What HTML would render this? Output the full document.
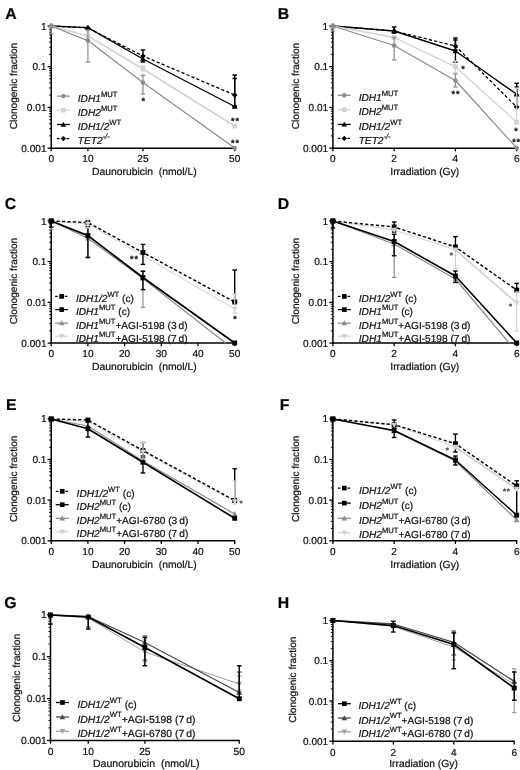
<!DOCTYPE html>
<html lang="en"><head><meta charset="utf-8"><title>Clonogenic fraction figure</title>
<style>
html,body{margin:0;padding:0;background:#fff;}
body{width:520px;height:770px;overflow:hidden;}
svg{display:block;font-family:'Liberation Sans', Arial, Helvetica, sans-serif;text-rendering:geometricPrecision;}
svg text{white-space:pre;stroke:#111;stroke-width:0.22px;}
</style></head><body>
<svg width="520" height="770" viewBox="0 0 520 770">
<rect width="520" height="770" fill="#ffffff"/>
<g id="panelA">
<text x="5.2" y="19.3" font-size="15.8" font-weight="bold" fill="#000">A</text>
<g stroke="#000" stroke-width="1.5" fill="none">
<line x1="51.2" y1="25.4" x2="51.2" y2="148.85"/>
<line x1="50.5" y1="148.15" x2="235.2" y2="148.15"/>
</g>
<g stroke="#000" stroke-width="1.3" fill="none">
<line x1="47.6" y1="25.90" x2="51.2" y2="25.90"/>
<line x1="49.1" y1="54.38" x2="51.2" y2="54.38" stroke-width="0.9"/>
<line x1="49.1" y1="47.21" x2="51.2" y2="47.21" stroke-width="0.9"/>
<line x1="49.1" y1="42.12" x2="51.2" y2="42.12" stroke-width="0.9"/>
<line x1="49.1" y1="38.17" x2="51.2" y2="38.17" stroke-width="0.9"/>
<line x1="49.1" y1="34.94" x2="51.2" y2="34.94" stroke-width="0.9"/>
<line x1="49.1" y1="32.21" x2="51.2" y2="32.21" stroke-width="0.9"/>
<line x1="49.1" y1="29.85" x2="51.2" y2="29.85" stroke-width="0.9"/>
<line x1="49.1" y1="27.76" x2="51.2" y2="27.76" stroke-width="0.9"/>
<line x1="47.6" y1="66.65" x2="51.2" y2="66.65"/>
<line x1="49.1" y1="95.13" x2="51.2" y2="95.13" stroke-width="0.9"/>
<line x1="49.1" y1="87.96" x2="51.2" y2="87.96" stroke-width="0.9"/>
<line x1="49.1" y1="82.87" x2="51.2" y2="82.87" stroke-width="0.9"/>
<line x1="49.1" y1="78.92" x2="51.2" y2="78.92" stroke-width="0.9"/>
<line x1="49.1" y1="75.69" x2="51.2" y2="75.69" stroke-width="0.9"/>
<line x1="49.1" y1="72.96" x2="51.2" y2="72.96" stroke-width="0.9"/>
<line x1="49.1" y1="70.60" x2="51.2" y2="70.60" stroke-width="0.9"/>
<line x1="49.1" y1="68.51" x2="51.2" y2="68.51" stroke-width="0.9"/>
<line x1="47.6" y1="107.40" x2="51.2" y2="107.40"/>
<line x1="49.1" y1="135.88" x2="51.2" y2="135.88" stroke-width="0.9"/>
<line x1="49.1" y1="128.71" x2="51.2" y2="128.71" stroke-width="0.9"/>
<line x1="49.1" y1="123.62" x2="51.2" y2="123.62" stroke-width="0.9"/>
<line x1="49.1" y1="119.67" x2="51.2" y2="119.67" stroke-width="0.9"/>
<line x1="49.1" y1="116.44" x2="51.2" y2="116.44" stroke-width="0.9"/>
<line x1="49.1" y1="113.71" x2="51.2" y2="113.71" stroke-width="0.9"/>
<line x1="49.1" y1="111.35" x2="51.2" y2="111.35" stroke-width="0.9"/>
<line x1="49.1" y1="109.26" x2="51.2" y2="109.26" stroke-width="0.9"/>
<line x1="47.6" y1="148.15" x2="51.2" y2="148.15"/>
<line x1="51.20" y1="148.15" x2="51.20" y2="151.35"/>
<line x1="87.90" y1="148.15" x2="87.90" y2="151.35"/>
<line x1="142.95" y1="148.15" x2="142.95" y2="151.35"/>
<line x1="234.70" y1="148.15" x2="234.70" y2="151.35"/>
</g>
<clipPath id="clipA"><rect x="46.2" y="17.9" width="195.5" height="130.75"/></clipPath>
<g clip-path="url(#clipA)">
<polyline points="51.20,26.00 87.90,28.00 142.95,56.00 234.70,95.00" fill="none" stroke="#000000" stroke-width="1.3" stroke-dasharray="3.2,2.2" stroke-linejoin="round"/>
<polyline points="51.20,26.00 87.90,27.60 142.95,59.00 234.70,106.50" fill="none" stroke="#000000" stroke-width="1.35" stroke-linejoin="round"/>
<polyline points="51.20,26.00 87.90,36.00 142.95,69.00 234.70,126.00" fill="none" stroke="#d2d2d2" stroke-width="1.5" stroke-linejoin="round"/>
<polyline points="51.20,26.00 87.90,40.60 142.95,82.60 234.70,148.10" fill="none" stroke="#8c8c8c" stroke-width="1.25" stroke-linejoin="round"/>
</g>
<g stroke="#000000" stroke-width="1.4" fill="none"><line x1="234.70" y1="75.00" x2="234.70" y2="106.00"/><line x1="232.40" y1="75.00" x2="237.00" y2="75.00"/><line x1="232.40" y1="106.00" x2="237.00" y2="106.00"/></g>
<polygon points="51.20,23.20 54.00,26.00 51.20,28.80 48.40,26.00" fill="#000000"/>
<polygon points="87.90,25.20 90.70,28.00 87.90,30.80 85.10,28.00" fill="#000000"/>
<polygon points="142.95,53.20 145.75,56.00 142.95,58.80 140.15,56.00" fill="#000000"/>
<polygon points="234.70,92.20 237.50,95.00 234.70,97.80 231.90,95.00" fill="#000000"/>
<g stroke="#000000" stroke-width="1.4" fill="none"><line x1="142.95" y1="50.00" x2="142.95" y2="62.00"/><line x1="140.65" y1="50.00" x2="145.25" y2="50.00"/><line x1="140.65" y1="62.00" x2="145.25" y2="62.00"/></g>
<g stroke="#000000" stroke-width="1.4" fill="none"><line x1="234.70" y1="78.50" x2="234.70" y2="106.50"/><line x1="232.40" y1="78.50" x2="237.00" y2="78.50"/><line x1="232.40" y1="106.50" x2="237.00" y2="106.50"/></g>
<polygon points="51.20,23.10 54.10,28.32 48.30,28.32" fill="#000000"/>
<polygon points="87.90,24.70 90.80,29.92 85.00,29.92" fill="#000000"/>
<polygon points="142.95,56.10 145.85,61.32 140.05,61.32" fill="#000000"/>
<polygon points="234.70,103.60 237.60,108.82 231.80,108.82" fill="#000000"/>
<g stroke="#d2d2d2" stroke-width="1.2" fill="none"><line x1="142.95" y1="66.00" x2="142.95" y2="75.00" stroke-dasharray="2,1.5"/><line x1="140.65" y1="66.00" x2="145.25" y2="66.00"/><line x1="140.65" y1="75.00" x2="145.25" y2="75.00"/></g>
<g stroke="#d2d2d2" stroke-width="1.2" fill="none"><line x1="87.90" y1="31.00" x2="87.90" y2="41.00" stroke-dasharray="2,1.5"/><line x1="85.60" y1="31.00" x2="90.20" y2="31.00"/><line x1="85.60" y1="41.00" x2="90.20" y2="41.00"/></g>
<rect x="48.75" y="23.55" width="4.90" height="4.90" fill="#d2d2d2"/>
<rect x="85.45" y="33.55" width="4.90" height="4.90" fill="#d2d2d2"/>
<rect x="140.50" y="66.55" width="4.90" height="4.90" fill="#d2d2d2"/>
<rect x="232.25" y="123.55" width="4.90" height="4.90" fill="#d2d2d2"/>
<g stroke="#8c8c8c" stroke-width="1.2" fill="none"><line x1="51.20" y1="26.00" x2="51.20" y2="34.00"/><line x1="48.90" y1="26.00" x2="53.50" y2="26.00"/><line x1="48.90" y1="34.00" x2="53.50" y2="34.00"/></g>
<g stroke="#8c8c8c" stroke-width="1.2" fill="none"><line x1="87.90" y1="30.00" x2="87.90" y2="62.00"/><line x1="85.60" y1="30.00" x2="90.20" y2="30.00"/><line x1="85.60" y1="62.00" x2="90.20" y2="62.00"/></g>
<g stroke="#8c8c8c" stroke-width="1.2" fill="none"><line x1="142.95" y1="75.50" x2="142.95" y2="94.00"/><line x1="140.65" y1="75.50" x2="145.25" y2="75.50"/><line x1="140.65" y1="94.00" x2="145.25" y2="94.00"/></g>
<circle cx="51.20" cy="26.00" r="2.30" fill="#8c8c8c"/>
<circle cx="87.90" cy="40.60" r="2.30" fill="#8c8c8c"/>
<circle cx="142.95" cy="82.60" r="2.30" fill="#8c8c8c"/>
<circle cx="234.70" cy="148.10" r="2.30" fill="#8c8c8c"/>
<text x="46.50" y="29.50" font-size="10.10" text-anchor="end" fill="#111111">1</text>
<text x="46.50" y="70.25" font-size="10.10" text-anchor="end" fill="#111111">0.1</text>
<text x="46.50" y="111.00" font-size="10.10" text-anchor="end" fill="#111111">0.01</text>
<text x="46.50" y="151.75" font-size="10.10" text-anchor="end" fill="#111111">0.001</text>
<text x="51.20" y="162.35" font-size="10.10" text-anchor="middle" fill="#111111">0</text>
<text x="87.90" y="162.35" font-size="10.10" text-anchor="middle" fill="#111111">10</text>
<text x="142.95" y="162.35" font-size="10.10" text-anchor="middle" fill="#111111">25</text>
<text x="234.70" y="162.35" font-size="10.10" text-anchor="middle" fill="#111111">50</text>
<text x="144.35" y="175.35" font-size="10.35" text-anchor="middle" fill="#111111" xml:space="preserve">Daunorubicin  (nmol/L)</text>
<text transform="translate(17.20,86.03) rotate(-90)" font-size="10.10" text-anchor="middle" fill="#111111">Clonogenic fraction</text>
<line x1="56.9" y1="96.1" x2="69.8" y2="96.1" stroke="#8c8c8c" stroke-width="1.3"/>
<circle cx="63.35" cy="96.10" r="2.18" fill="#8c8c8c"/>
<text x="77.80" y="101.60" font-size="10.15" text-anchor="start" fill="#111111" xml:space="preserve"><tspan font-style="italic">IDH1</tspan><tspan font-size="7.61" dy="-5.1">MUT</tspan></text>
<line x1="56.9" y1="110.2" x2="69.8" y2="110.2" stroke="#d2d2d2" stroke-width="1.3"/>
<rect x="61.02" y="107.87" width="4.66" height="4.66" fill="#d2d2d2"/>
<text x="77.80" y="115.70" font-size="10.15" text-anchor="start" fill="#111111" xml:space="preserve"><tspan font-style="italic">IDH2</tspan><tspan font-size="7.61" dy="-5.1">MUT</tspan></text>
<line x1="56.9" y1="124.5" x2="69.8" y2="124.5" stroke="#000000" stroke-width="1.3"/>
<polygon points="63.35,121.75 66.11,126.70 60.59,126.70" fill="#000000"/>
<text x="77.80" y="130.00" font-size="10.15" text-anchor="start" fill="#111111" xml:space="preserve"><tspan font-style="italic">IDH1/2</tspan><tspan font-size="7.61" dy="-5.1">WT</tspan></text>
<line x1="56.9" y1="138.6" x2="69.8" y2="138.6" stroke="#000000" stroke-width="1.3" stroke-dasharray="2.6,2.2"/>
<polygon points="63.35,135.94 66.01,138.60 63.35,141.26 60.69,138.60" fill="#000000"/>
<text x="77.80" y="144.10" font-size="10.15" text-anchor="start" fill="#111111" xml:space="preserve"><tspan font-style="italic">TET2</tspan><tspan font-style="italic" font-size="7.61" dy="-5.1">-/-</tspan></text>
<text x="143.70000000000002" y="104.18" font-size="9" font-weight="bold" text-anchor="middle" fill="#1c1c1c" stroke="none" letter-spacing="0.8">*</text>
<text x="235.4" y="123.68" font-size="9" font-weight="bold" text-anchor="middle" fill="#1c1c1c" stroke="none" letter-spacing="0.8">**</text>
<text x="235.4" y="145.98" font-size="9" font-weight="bold" text-anchor="middle" fill="#1c1c1c" stroke="none" letter-spacing="0.8">**</text>
</g>
<g id="panelB">
<text x="277.8" y="19.1" font-size="15.8" font-weight="bold" fill="#000">B</text>
<g stroke="#000" stroke-width="1.5" fill="none">
<line x1="332.9" y1="25.4" x2="332.9" y2="148.85"/>
<line x1="332.2" y1="148.15" x2="517.2" y2="148.15"/>
</g>
<g stroke="#000" stroke-width="1.3" fill="none">
<line x1="329.29999999999995" y1="25.90" x2="332.9" y2="25.90"/>
<line x1="330.79999999999995" y1="54.38" x2="332.9" y2="54.38" stroke-width="0.9"/>
<line x1="330.79999999999995" y1="47.21" x2="332.9" y2="47.21" stroke-width="0.9"/>
<line x1="330.79999999999995" y1="42.12" x2="332.9" y2="42.12" stroke-width="0.9"/>
<line x1="330.79999999999995" y1="38.17" x2="332.9" y2="38.17" stroke-width="0.9"/>
<line x1="330.79999999999995" y1="34.94" x2="332.9" y2="34.94" stroke-width="0.9"/>
<line x1="330.79999999999995" y1="32.21" x2="332.9" y2="32.21" stroke-width="0.9"/>
<line x1="330.79999999999995" y1="29.85" x2="332.9" y2="29.85" stroke-width="0.9"/>
<line x1="330.79999999999995" y1="27.76" x2="332.9" y2="27.76" stroke-width="0.9"/>
<line x1="329.29999999999995" y1="66.65" x2="332.9" y2="66.65"/>
<line x1="330.79999999999995" y1="95.13" x2="332.9" y2="95.13" stroke-width="0.9"/>
<line x1="330.79999999999995" y1="87.96" x2="332.9" y2="87.96" stroke-width="0.9"/>
<line x1="330.79999999999995" y1="82.87" x2="332.9" y2="82.87" stroke-width="0.9"/>
<line x1="330.79999999999995" y1="78.92" x2="332.9" y2="78.92" stroke-width="0.9"/>
<line x1="330.79999999999995" y1="75.69" x2="332.9" y2="75.69" stroke-width="0.9"/>
<line x1="330.79999999999995" y1="72.96" x2="332.9" y2="72.96" stroke-width="0.9"/>
<line x1="330.79999999999995" y1="70.60" x2="332.9" y2="70.60" stroke-width="0.9"/>
<line x1="330.79999999999995" y1="68.51" x2="332.9" y2="68.51" stroke-width="0.9"/>
<line x1="329.29999999999995" y1="107.40" x2="332.9" y2="107.40"/>
<line x1="330.79999999999995" y1="135.88" x2="332.9" y2="135.88" stroke-width="0.9"/>
<line x1="330.79999999999995" y1="128.71" x2="332.9" y2="128.71" stroke-width="0.9"/>
<line x1="330.79999999999995" y1="123.62" x2="332.9" y2="123.62" stroke-width="0.9"/>
<line x1="330.79999999999995" y1="119.67" x2="332.9" y2="119.67" stroke-width="0.9"/>
<line x1="330.79999999999995" y1="116.44" x2="332.9" y2="116.44" stroke-width="0.9"/>
<line x1="330.79999999999995" y1="113.71" x2="332.9" y2="113.71" stroke-width="0.9"/>
<line x1="330.79999999999995" y1="111.35" x2="332.9" y2="111.35" stroke-width="0.9"/>
<line x1="330.79999999999995" y1="109.26" x2="332.9" y2="109.26" stroke-width="0.9"/>
<line x1="329.29999999999995" y1="148.15" x2="332.9" y2="148.15"/>
<line x1="332.90" y1="148.15" x2="332.90" y2="151.35"/>
<line x1="394.17" y1="148.15" x2="394.17" y2="151.35"/>
<line x1="455.43" y1="148.15" x2="455.43" y2="151.35"/>
<line x1="516.70" y1="148.15" x2="516.70" y2="151.35"/>
</g>
<clipPath id="clipB"><rect x="327.9" y="17.9" width="195.80000000000007" height="130.75"/></clipPath>
<g clip-path="url(#clipB)">
<polyline points="332.90,26.00 394.17,31.00 455.43,46.00 516.70,107.00" fill="none" stroke="#000000" stroke-width="1.3" stroke-dasharray="3.2,2.2" stroke-linejoin="round"/>
<polyline points="332.90,26.00 394.17,31.00 455.43,51.00 516.70,94.30" fill="none" stroke="#000000" stroke-width="1.35" stroke-linejoin="round"/>
<polyline points="332.90,26.00 394.17,37.50 455.43,66.80 516.70,122.30" fill="none" stroke="#d2d2d2" stroke-width="1.3" stroke-linejoin="round"/>
<polyline points="332.90,26.00 394.17,45.50 455.43,80.50 516.70,148.00" fill="none" stroke="#8c8c8c" stroke-width="1.25" stroke-linejoin="round"/>
</g>
<g stroke="#000000" stroke-width="1.4" fill="none"><line x1="455.43" y1="38.00" x2="455.43" y2="50.00"/><line x1="453.13" y1="38.00" x2="457.73" y2="38.00"/><line x1="453.13" y1="50.00" x2="457.73" y2="50.00"/></g>
<g stroke="#000000" stroke-width="1.4" fill="none"><line x1="516.70" y1="87.10" x2="516.70" y2="107.00"/><line x1="514.40" y1="87.10" x2="519.00" y2="87.10"/><line x1="514.40" y1="107.00" x2="519.00" y2="107.00"/></g>
<polygon points="332.90,23.20 335.70,26.00 332.90,28.80 330.10,26.00" fill="#000000"/>
<polygon points="394.17,28.20 396.97,31.00 394.17,33.80 391.37,31.00" fill="#000000"/>
<polygon points="455.43,43.20 458.23,46.00 455.43,48.80 452.63,46.00" fill="#000000"/>
<polygon points="516.70,104.20 519.50,107.00 516.70,109.80 513.90,107.00" fill="#000000"/>
<g stroke="#000000" stroke-width="1.4" fill="none"><line x1="394.17" y1="27.00" x2="394.17" y2="33.00"/><line x1="391.87" y1="27.00" x2="396.47" y2="27.00"/><line x1="391.87" y1="33.00" x2="396.47" y2="33.00"/></g>
<g stroke="#000000" stroke-width="1.4" fill="none"><line x1="455.43" y1="40.00" x2="455.43" y2="62.00"/><line x1="453.13" y1="40.00" x2="457.73" y2="40.00"/><line x1="453.13" y1="62.00" x2="457.73" y2="62.00"/></g>
<g stroke="#000000" stroke-width="1.4" fill="none"><line x1="516.70" y1="83.30" x2="516.70" y2="95.00"/><line x1="514.40" y1="83.30" x2="519.00" y2="83.30"/><line x1="514.40" y1="95.00" x2="519.00" y2="95.00"/></g>
<polygon points="332.90,23.10 335.80,28.32 330.00,28.32" fill="#000000"/>
<polygon points="394.17,28.10 397.07,33.32 391.27,33.32" fill="#000000"/>
<polygon points="455.43,48.10 458.33,53.32 452.53,53.32" fill="#000000"/>
<polygon points="516.70,91.40 519.60,96.62 513.80,96.62" fill="#000000"/>
<g stroke="#d2d2d2" stroke-width="1.2" fill="none"><line x1="455.43" y1="61.00" x2="455.43" y2="72.50"/><line x1="453.13" y1="61.00" x2="457.73" y2="61.00"/><line x1="453.13" y1="72.50" x2="457.73" y2="72.50"/></g>
<g stroke="#d2d2d2" stroke-width="1.2" fill="none"><line x1="516.70" y1="88.00" x2="516.70" y2="122.00"/><line x1="514.40" y1="88.00" x2="519.00" y2="88.00"/><line x1="514.40" y1="122.00" x2="519.00" y2="122.00"/></g>
<rect x="330.45" y="23.55" width="4.90" height="4.90" fill="#d2d2d2"/>
<rect x="391.72" y="35.05" width="4.90" height="4.90" fill="#d2d2d2"/>
<rect x="452.98" y="64.35" width="4.90" height="4.90" fill="#d2d2d2"/>
<rect x="514.25" y="119.85" width="4.90" height="4.90" fill="#d2d2d2"/>
<g stroke="#8c8c8c" stroke-width="1.2" fill="none"><line x1="332.90" y1="26.00" x2="332.90" y2="31.00"/><line x1="330.60" y1="26.00" x2="335.20" y2="26.00"/><line x1="330.60" y1="31.00" x2="335.20" y2="31.00"/></g>
<g stroke="#8c8c8c" stroke-width="1.2" fill="none"><line x1="394.17" y1="37.50" x2="394.17" y2="60.00"/><line x1="391.87" y1="37.50" x2="396.47" y2="37.50"/><line x1="391.87" y1="60.00" x2="396.47" y2="60.00"/></g>
<g stroke="#8c8c8c" stroke-width="1.2" fill="none"><line x1="455.43" y1="74.00" x2="455.43" y2="87.00"/><line x1="453.13" y1="74.00" x2="457.73" y2="74.00"/><line x1="453.13" y1="87.00" x2="457.73" y2="87.00"/></g>
<circle cx="332.90" cy="26.00" r="2.30" fill="#8c8c8c"/>
<circle cx="394.17" cy="45.50" r="2.30" fill="#8c8c8c"/>
<circle cx="455.43" cy="80.50" r="2.30" fill="#8c8c8c"/>
<circle cx="516.70" cy="148.00" r="2.30" fill="#8c8c8c"/>
<text x="328.20" y="29.50" font-size="10.10" text-anchor="end" fill="#111111">1</text>
<text x="328.20" y="70.25" font-size="10.10" text-anchor="end" fill="#111111">0.1</text>
<text x="328.20" y="111.00" font-size="10.10" text-anchor="end" fill="#111111">0.01</text>
<text x="328.20" y="151.75" font-size="10.10" text-anchor="end" fill="#111111">0.001</text>
<text x="332.90" y="162.35" font-size="10.10" text-anchor="middle" fill="#111111">0</text>
<text x="394.17" y="162.35" font-size="10.10" text-anchor="middle" fill="#111111">2</text>
<text x="455.43" y="162.35" font-size="10.10" text-anchor="middle" fill="#111111">4</text>
<text x="516.70" y="162.35" font-size="10.10" text-anchor="middle" fill="#111111">6</text>
<text x="424.80" y="175.35" font-size="10.35" text-anchor="middle" fill="#111111" xml:space="preserve">Irradiation (Gy)</text>
<text transform="translate(299.40,86.03) rotate(-90)" font-size="10.10" text-anchor="middle" fill="#111111">Clonogenic fraction</text>
<line x1="337.8" y1="95.3" x2="350.7" y2="95.3" stroke="#8c8c8c" stroke-width="1.3"/>
<circle cx="344.25" cy="95.30" r="2.18" fill="#8c8c8c"/>
<text x="358.70" y="100.80" font-size="10.15" text-anchor="start" fill="#111111" xml:space="preserve"><tspan font-style="italic">IDH1</tspan><tspan font-size="7.61" dy="-5.1">MUT</tspan></text>
<line x1="337.8" y1="109.8" x2="350.7" y2="109.8" stroke="#d2d2d2" stroke-width="1.3"/>
<rect x="341.92" y="107.47" width="4.66" height="4.66" fill="#d2d2d2"/>
<text x="358.70" y="115.30" font-size="10.15" text-anchor="start" fill="#111111" xml:space="preserve"><tspan font-style="italic">IDH2</tspan><tspan font-size="7.61" dy="-5.1">MUT</tspan></text>
<line x1="337.8" y1="124.4" x2="350.7" y2="124.4" stroke="#000000" stroke-width="1.3"/>
<polygon points="344.25,121.65 347.00,126.60 341.50,126.60" fill="#000000"/>
<text x="358.70" y="129.90" font-size="10.15" text-anchor="start" fill="#111111" xml:space="preserve"><tspan font-style="italic">IDH1/2</tspan><tspan font-size="7.61" dy="-5.1">WT</tspan></text>
<line x1="337.8" y1="138.4" x2="350.7" y2="138.4" stroke="#000000" stroke-width="1.3" stroke-dasharray="2.6,2.2"/>
<polygon points="344.25,135.74 346.91,138.40 344.25,141.06 341.59,138.40" fill="#000000"/>
<text x="358.70" y="143.90" font-size="10.15" text-anchor="start" fill="#111111" xml:space="preserve"><tspan font-style="italic">TET2</tspan><tspan font-style="italic" font-size="7.61" dy="-5.1">-/-</tspan></text>
<text x="463.4" y="71.68" font-size="9" font-weight="bold" text-anchor="middle" fill="#1c1c1c" stroke="none" letter-spacing="0.8">*</text>
<text x="455.9" y="97.18" font-size="9" font-weight="bold" text-anchor="middle" fill="#1c1c1c" stroke="none" letter-spacing="0.8">**</text>
<text x="516.4" y="133.68" font-size="9" font-weight="bold" text-anchor="middle" fill="#1c1c1c" stroke="none" letter-spacing="0.8">*</text>
<text x="516.5" y="144.98" font-size="9" font-weight="bold" text-anchor="middle" fill="#1c1c1c" stroke="none" letter-spacing="0.8">**</text>
</g>
<g id="panelC">
<text x="4.8" y="208.6" font-size="15.8" font-weight="bold" fill="#000">C</text>
<g stroke="#000" stroke-width="1.5" fill="none">
<line x1="51.2" y1="220.4" x2="51.2" y2="343.8"/>
<line x1="50.5" y1="343.1" x2="235.2" y2="343.1"/>
</g>
<g stroke="#000" stroke-width="1.3" fill="none">
<line x1="47.6" y1="220.90" x2="51.2" y2="220.90"/>
<line x1="49.1" y1="249.37" x2="51.2" y2="249.37" stroke-width="0.9"/>
<line x1="49.1" y1="242.20" x2="51.2" y2="242.20" stroke-width="0.9"/>
<line x1="49.1" y1="237.11" x2="51.2" y2="237.11" stroke-width="0.9"/>
<line x1="49.1" y1="233.16" x2="51.2" y2="233.16" stroke-width="0.9"/>
<line x1="49.1" y1="229.94" x2="51.2" y2="229.94" stroke-width="0.9"/>
<line x1="49.1" y1="227.21" x2="51.2" y2="227.21" stroke-width="0.9"/>
<line x1="49.1" y1="224.85" x2="51.2" y2="224.85" stroke-width="0.9"/>
<line x1="49.1" y1="222.76" x2="51.2" y2="222.76" stroke-width="0.9"/>
<line x1="47.6" y1="261.63" x2="51.2" y2="261.63"/>
<line x1="49.1" y1="290.10" x2="51.2" y2="290.10" stroke-width="0.9"/>
<line x1="49.1" y1="282.93" x2="51.2" y2="282.93" stroke-width="0.9"/>
<line x1="49.1" y1="277.84" x2="51.2" y2="277.84" stroke-width="0.9"/>
<line x1="49.1" y1="273.90" x2="51.2" y2="273.90" stroke-width="0.9"/>
<line x1="49.1" y1="270.67" x2="51.2" y2="270.67" stroke-width="0.9"/>
<line x1="49.1" y1="267.94" x2="51.2" y2="267.94" stroke-width="0.9"/>
<line x1="49.1" y1="265.58" x2="51.2" y2="265.58" stroke-width="0.9"/>
<line x1="49.1" y1="263.50" x2="51.2" y2="263.50" stroke-width="0.9"/>
<line x1="47.6" y1="302.37" x2="51.2" y2="302.37"/>
<line x1="49.1" y1="330.84" x2="51.2" y2="330.84" stroke-width="0.9"/>
<line x1="49.1" y1="323.67" x2="51.2" y2="323.67" stroke-width="0.9"/>
<line x1="49.1" y1="318.58" x2="51.2" y2="318.58" stroke-width="0.9"/>
<line x1="49.1" y1="314.63" x2="51.2" y2="314.63" stroke-width="0.9"/>
<line x1="49.1" y1="311.40" x2="51.2" y2="311.40" stroke-width="0.9"/>
<line x1="49.1" y1="308.68" x2="51.2" y2="308.68" stroke-width="0.9"/>
<line x1="49.1" y1="306.31" x2="51.2" y2="306.31" stroke-width="0.9"/>
<line x1="49.1" y1="304.23" x2="51.2" y2="304.23" stroke-width="0.9"/>
<line x1="47.6" y1="343.10" x2="51.2" y2="343.10"/>
<line x1="51.20" y1="343.1" x2="51.20" y2="346.3"/>
<line x1="87.90" y1="343.1" x2="87.90" y2="346.3"/>
<line x1="124.60" y1="343.1" x2="124.60" y2="346.3"/>
<line x1="161.30" y1="343.1" x2="161.30" y2="346.3"/>
<line x1="198.00" y1="343.1" x2="198.00" y2="346.3"/>
<line x1="234.70" y1="343.1" x2="234.70" y2="346.3"/>
</g>
<clipPath id="clipC"><rect x="46.2" y="212.9" width="195.5" height="130.70000000000002"/></clipPath>
<g clip-path="url(#clipC)">
<polyline points="51.20,221.00 87.90,224.00 142.95,255.60 234.70,309.00" fill="none" stroke="#d2d2d2" stroke-width="1.0" stroke-linejoin="round"/>
<polyline points="51.20,221.00 87.90,238.20 142.95,278.50 226.26,343.50" fill="none" stroke="#8c8c8c" stroke-width="1.25" stroke-linejoin="round"/>
<polyline points="51.20,221.00 87.90,222.50 142.95,252.50 234.70,302.00" fill="none" stroke="#000000" stroke-width="1.45" stroke-dasharray="3.2,2.2" stroke-linejoin="round"/>
<polyline points="51.20,221.00 87.90,235.60 142.95,277.50 234.70,343.00" fill="none" stroke="#000000" stroke-width="1.7" stroke-linejoin="round"/>
</g>
<g stroke="#8c8c8c" stroke-width="1.2" fill="none"><line x1="51.20" y1="221.00" x2="51.20" y2="229.60"/><line x1="48.90" y1="221.00" x2="53.50" y2="221.00"/><line x1="48.90" y1="229.60" x2="53.50" y2="229.60"/></g>
<g stroke="#8c8c8c" stroke-width="1.2" fill="none"><line x1="87.90" y1="228.00" x2="87.90" y2="258.20"/><line x1="85.60" y1="228.00" x2="90.20" y2="228.00"/><line x1="85.60" y1="258.20" x2="90.20" y2="258.20"/></g>
<g stroke="#8c8c8c" stroke-width="1.2" fill="none"><line x1="142.95" y1="271.00" x2="142.95" y2="307.25"/><line x1="140.65" y1="271.00" x2="145.25" y2="271.00"/><line x1="140.65" y1="307.25" x2="145.25" y2="307.25"/></g>
<polygon points="51.20,218.10 54.10,223.32 48.30,223.32" fill="#8c8c8c"/>
<polygon points="87.90,235.30 90.80,240.52 85.00,240.52" fill="#8c8c8c"/>
<polygon points="142.95,275.60 145.85,280.82 140.05,280.82" fill="#8c8c8c"/>
<g stroke="#000000" stroke-width="1.4" fill="none"><line x1="142.95" y1="244.40" x2="142.95" y2="264.40"/><line x1="140.65" y1="244.40" x2="145.25" y2="244.40"/><line x1="140.65" y1="264.40" x2="145.25" y2="264.40"/></g>
<g stroke="#000000" stroke-width="1.4" fill="none"><line x1="234.70" y1="270.00" x2="234.70" y2="302.00"/><line x1="232.40" y1="270.00" x2="237.00" y2="270.00"/><line x1="232.40" y1="302.00" x2="237.00" y2="302.00"/></g>
<rect x="48.75" y="218.55" width="4.90" height="4.90" fill="#000000"/>
<rect x="85.45" y="220.05" width="4.90" height="4.90" fill="#000000"/>
<rect x="140.50" y="250.05" width="4.90" height="4.90" fill="#000000"/>
<rect x="232.25" y="299.55" width="4.90" height="4.90" fill="#000000"/>
<g stroke="#000000" stroke-width="1.4" fill="none"><line x1="51.20" y1="221.00" x2="51.20" y2="227.00"/><line x1="48.90" y1="221.00" x2="53.50" y2="221.00"/><line x1="48.90" y1="227.00" x2="53.50" y2="227.00"/></g>
<g stroke="#000000" stroke-width="1.4" fill="none"><line x1="87.90" y1="226.50" x2="87.90" y2="257.25"/><line x1="85.60" y1="226.50" x2="90.20" y2="226.50"/><line x1="85.60" y1="257.25" x2="90.20" y2="257.25"/></g>
<g stroke="#000000" stroke-width="1.4" fill="none"><line x1="142.95" y1="271.25" x2="142.95" y2="289.60"/><line x1="140.65" y1="271.25" x2="145.25" y2="271.25"/><line x1="140.65" y1="289.60" x2="145.25" y2="289.60"/></g>
<rect x="48.75" y="218.55" width="4.90" height="4.90" fill="#000000"/>
<rect x="85.45" y="233.15" width="4.90" height="4.90" fill="#000000"/>
<rect x="140.50" y="275.05" width="4.90" height="4.90" fill="#000000"/>
<rect x="232.25" y="340.55" width="4.90" height="4.90" fill="#000000"/>
<g stroke="#d2d2d2" stroke-width="1.2" fill="none"><line x1="234.70" y1="294.00" x2="234.70" y2="313.00"/><line x1="232.40" y1="294.00" x2="237.00" y2="294.00"/><line x1="232.40" y1="313.00" x2="237.00" y2="313.00"/></g>
<g stroke="#d2d2d2" stroke-width="1.2" fill="none"><line x1="87.90" y1="219.00" x2="87.90" y2="228.00"/><line x1="85.60" y1="219.00" x2="90.20" y2="219.00"/><line x1="85.60" y1="228.00" x2="90.20" y2="228.00"/></g>
<polygon points="87.90,226.90 90.80,221.68 85.00,221.68" fill="#d2d2d2"/>
<polygon points="234.70,311.90 237.60,306.68 231.80,306.68" fill="#d2d2d2"/>
<text x="46.50" y="224.50" font-size="10.10" text-anchor="end" fill="#111111">1</text>
<text x="46.50" y="265.23" font-size="10.10" text-anchor="end" fill="#111111">0.1</text>
<text x="46.50" y="305.97" font-size="10.10" text-anchor="end" fill="#111111">0.01</text>
<text x="46.50" y="346.70" font-size="10.10" text-anchor="end" fill="#111111">0.001</text>
<text x="51.20" y="357.30" font-size="10.10" text-anchor="middle" fill="#111111">0</text>
<text x="87.90" y="357.30" font-size="10.10" text-anchor="middle" fill="#111111">10</text>
<text x="124.60" y="357.30" font-size="10.10" text-anchor="middle" fill="#111111">20</text>
<text x="161.30" y="357.30" font-size="10.10" text-anchor="middle" fill="#111111">30</text>
<text x="198.00" y="357.30" font-size="10.10" text-anchor="middle" fill="#111111">40</text>
<text x="234.70" y="357.30" font-size="10.10" text-anchor="middle" fill="#111111">50</text>
<text x="144.35" y="370.30" font-size="10.35" text-anchor="middle" fill="#111111" xml:space="preserve">Daunorubicin  (nmol/L)</text>
<text transform="translate(17.20,281.00) rotate(-90)" font-size="10.10" text-anchor="middle" fill="#111111">Clonogenic fraction</text>
<line x1="55.2" y1="296.4" x2="68.10000000000001" y2="296.4" stroke="#000000" stroke-width="1.3" stroke-dasharray="2.6,2.2"/>
<rect x="59.32" y="294.07" width="4.66" height="4.66" fill="#000000"/>
<text x="75.90" y="301.90" font-size="10.15" text-anchor="start" fill="#111111" xml:space="preserve"><tspan font-style="italic">IDH1/2</tspan><tspan font-size="7.61" dy="-5.1">WT</tspan><tspan dy="5.1"> (c)</tspan></text>
<line x1="55.2" y1="309.6" x2="68.10000000000001" y2="309.6" stroke="#000000" stroke-width="1.3"/>
<rect x="59.32" y="307.27" width="4.66" height="4.66" fill="#000000"/>
<text x="75.90" y="315.10" font-size="10.15" text-anchor="start" fill="#111111" xml:space="preserve"><tspan font-style="italic">IDH1</tspan><tspan font-size="7.61" dy="-5.1">MUT</tspan><tspan dy="5.1"> (c)</tspan></text>
<line x1="55.2" y1="323.1" x2="68.10000000000001" y2="323.1" stroke="#8c8c8c" stroke-width="1.3"/>
<polygon points="61.65,320.35 64.41,325.30 58.90,325.30" fill="#8c8c8c"/>
<text x="75.90" y="328.60" font-size="10.15" text-anchor="start" fill="#111111" xml:space="preserve"><tspan font-style="italic">IDH1</tspan><tspan font-size="7.61" dy="-5.1">MUT</tspan><tspan dy="5.1">+AGI-5198 (3 d)</tspan></text>
<line x1="55.2" y1="336.2" x2="68.10000000000001" y2="336.2" stroke="#d2d2d2" stroke-width="1.3"/>
<polygon points="61.65,338.95 64.41,334.00 58.90,334.00" fill="#d2d2d2"/>
<text x="75.90" y="341.70" font-size="10.15" text-anchor="start" fill="#111111" xml:space="preserve"><tspan font-style="italic">IDH1</tspan><tspan font-size="7.61" dy="-5.1">MUT</tspan><tspan dy="5.1">+AGI-5198 (7 d)</tspan></text>
<text x="134.4" y="261.68" font-size="9" font-weight="bold" text-anchor="middle" fill="#1c1c1c" stroke="none" letter-spacing="0.8">**</text>
<text x="235.4" y="322.18" font-size="9" font-weight="bold" text-anchor="middle" fill="#1c1c1c" stroke="none" letter-spacing="0.8">*</text>
</g>
<g id="panelD">
<text x="277.8" y="208.5" font-size="15.8" font-weight="bold" fill="#000">D</text>
<g stroke="#000" stroke-width="1.5" fill="none">
<line x1="332.9" y1="220.4" x2="332.9" y2="343.8"/>
<line x1="332.2" y1="343.1" x2="517.2" y2="343.1"/>
</g>
<g stroke="#000" stroke-width="1.3" fill="none">
<line x1="329.29999999999995" y1="220.90" x2="332.9" y2="220.90"/>
<line x1="330.79999999999995" y1="249.37" x2="332.9" y2="249.37" stroke-width="0.9"/>
<line x1="330.79999999999995" y1="242.20" x2="332.9" y2="242.20" stroke-width="0.9"/>
<line x1="330.79999999999995" y1="237.11" x2="332.9" y2="237.11" stroke-width="0.9"/>
<line x1="330.79999999999995" y1="233.16" x2="332.9" y2="233.16" stroke-width="0.9"/>
<line x1="330.79999999999995" y1="229.94" x2="332.9" y2="229.94" stroke-width="0.9"/>
<line x1="330.79999999999995" y1="227.21" x2="332.9" y2="227.21" stroke-width="0.9"/>
<line x1="330.79999999999995" y1="224.85" x2="332.9" y2="224.85" stroke-width="0.9"/>
<line x1="330.79999999999995" y1="222.76" x2="332.9" y2="222.76" stroke-width="0.9"/>
<line x1="329.29999999999995" y1="261.63" x2="332.9" y2="261.63"/>
<line x1="330.79999999999995" y1="290.10" x2="332.9" y2="290.10" stroke-width="0.9"/>
<line x1="330.79999999999995" y1="282.93" x2="332.9" y2="282.93" stroke-width="0.9"/>
<line x1="330.79999999999995" y1="277.84" x2="332.9" y2="277.84" stroke-width="0.9"/>
<line x1="330.79999999999995" y1="273.90" x2="332.9" y2="273.90" stroke-width="0.9"/>
<line x1="330.79999999999995" y1="270.67" x2="332.9" y2="270.67" stroke-width="0.9"/>
<line x1="330.79999999999995" y1="267.94" x2="332.9" y2="267.94" stroke-width="0.9"/>
<line x1="330.79999999999995" y1="265.58" x2="332.9" y2="265.58" stroke-width="0.9"/>
<line x1="330.79999999999995" y1="263.50" x2="332.9" y2="263.50" stroke-width="0.9"/>
<line x1="329.29999999999995" y1="302.37" x2="332.9" y2="302.37"/>
<line x1="330.79999999999995" y1="330.84" x2="332.9" y2="330.84" stroke-width="0.9"/>
<line x1="330.79999999999995" y1="323.67" x2="332.9" y2="323.67" stroke-width="0.9"/>
<line x1="330.79999999999995" y1="318.58" x2="332.9" y2="318.58" stroke-width="0.9"/>
<line x1="330.79999999999995" y1="314.63" x2="332.9" y2="314.63" stroke-width="0.9"/>
<line x1="330.79999999999995" y1="311.40" x2="332.9" y2="311.40" stroke-width="0.9"/>
<line x1="330.79999999999995" y1="308.68" x2="332.9" y2="308.68" stroke-width="0.9"/>
<line x1="330.79999999999995" y1="306.31" x2="332.9" y2="306.31" stroke-width="0.9"/>
<line x1="330.79999999999995" y1="304.23" x2="332.9" y2="304.23" stroke-width="0.9"/>
<line x1="329.29999999999995" y1="343.10" x2="332.9" y2="343.10"/>
<line x1="332.90" y1="343.1" x2="332.90" y2="346.3"/>
<line x1="394.17" y1="343.1" x2="394.17" y2="346.3"/>
<line x1="455.43" y1="343.1" x2="455.43" y2="346.3"/>
<line x1="516.70" y1="343.1" x2="516.70" y2="346.3"/>
</g>
<clipPath id="clipD"><rect x="327.9" y="212.9" width="195.80000000000007" height="130.70000000000002"/></clipPath>
<g clip-path="url(#clipD)">
<polyline points="332.90,221.00 394.17,230.00 455.43,249.80 516.70,303.00" fill="none" stroke="#d2d2d2" stroke-width="1.0" stroke-linejoin="round"/>
<polyline points="332.90,221.00 394.17,244.00 455.43,279.00 509.65,343.50" fill="none" stroke="#8c8c8c" stroke-width="1.25" stroke-linejoin="round"/>
<polyline points="332.90,221.00 394.17,227.00 455.43,247.00 516.70,290.10" fill="none" stroke="#000000" stroke-width="1.45" stroke-dasharray="3.2,2.2" stroke-linejoin="round"/>
<polyline points="332.90,221.00 394.17,241.50 455.43,276.00 516.70,343.00" fill="none" stroke="#000000" stroke-width="1.6" stroke-linejoin="round"/>
<polyline points="455.43,249.80 516.70,303.00" fill="none" stroke="#d2d2d2" stroke-width="1.6" stroke-linejoin="round"/>
</g>
<g stroke="#8c8c8c" stroke-width="1.2" fill="none"><line x1="394.17" y1="230.00" x2="394.17" y2="277.50"/><line x1="391.87" y1="230.00" x2="396.47" y2="230.00"/><line x1="391.87" y1="277.50" x2="396.47" y2="277.50"/></g>
<polygon points="332.90,218.10 335.80,223.32 330.00,223.32" fill="#8c8c8c"/>
<polygon points="394.17,241.10 397.07,246.32 391.27,246.32" fill="#8c8c8c"/>
<polygon points="455.43,276.10 458.33,281.32 452.53,281.32" fill="#8c8c8c"/>
<g stroke="#000000" stroke-width="1.4" fill="none"><line x1="394.17" y1="222.00" x2="394.17" y2="232.00"/><line x1="391.87" y1="222.00" x2="396.47" y2="222.00"/><line x1="391.87" y1="232.00" x2="396.47" y2="232.00"/></g>
<g stroke="#000000" stroke-width="1.4" fill="none"><line x1="455.43" y1="236.60" x2="455.43" y2="248.00"/><line x1="453.13" y1="236.60" x2="457.73" y2="236.60"/><line x1="453.13" y1="248.00" x2="457.73" y2="248.00"/></g>
<g stroke="#000000" stroke-width="1.4" fill="none"><line x1="516.70" y1="283.40" x2="516.70" y2="291.00"/><line x1="514.40" y1="283.40" x2="519.00" y2="283.40"/><line x1="514.40" y1="291.00" x2="519.00" y2="291.00"/></g>
<rect x="330.45" y="218.55" width="4.90" height="4.90" fill="#000000"/>
<rect x="391.72" y="224.55" width="4.90" height="4.90" fill="#000000"/>
<rect x="452.98" y="244.55" width="4.90" height="4.90" fill="#000000"/>
<rect x="514.25" y="287.65" width="4.90" height="4.90" fill="#000000"/>
<g stroke="#000000" stroke-width="1.4" fill="none"><line x1="332.90" y1="221.00" x2="332.90" y2="228.00"/><line x1="330.60" y1="221.00" x2="335.20" y2="221.00"/><line x1="330.60" y1="228.00" x2="335.20" y2="228.00"/></g>
<g stroke="#000000" stroke-width="1.4" fill="none"><line x1="394.17" y1="234.30" x2="394.17" y2="255.70"/><line x1="391.87" y1="234.30" x2="396.47" y2="234.30"/><line x1="391.87" y1="255.70" x2="396.47" y2="255.70"/></g>
<g stroke="#000000" stroke-width="1.4" fill="none"><line x1="455.43" y1="271.00" x2="455.43" y2="282.50"/><line x1="453.13" y1="271.00" x2="457.73" y2="271.00"/><line x1="453.13" y1="282.50" x2="457.73" y2="282.50"/></g>
<rect x="330.45" y="218.55" width="4.90" height="4.90" fill="#000000"/>
<rect x="391.72" y="239.05" width="4.90" height="4.90" fill="#000000"/>
<rect x="452.98" y="273.55" width="4.90" height="4.90" fill="#000000"/>
<rect x="514.25" y="340.55" width="4.90" height="4.90" fill="#000000"/>


<g stroke="#d2d2d2" stroke-width="1.2" fill="none"><line x1="455.43" y1="249.00" x2="455.43" y2="268.50"/><line x1="453.13" y1="249.00" x2="457.73" y2="249.00"/><line x1="453.13" y1="268.50" x2="457.73" y2="268.50"/></g>
<g stroke="#d2d2d2" stroke-width="1.2" fill="none"><line x1="516.70" y1="292.00" x2="516.70" y2="331.00"/><line x1="514.40" y1="292.00" x2="519.00" y2="292.00"/><line x1="514.40" y1="331.00" x2="519.00" y2="331.00"/></g>
<polygon points="394.17,232.90 397.07,227.68 391.27,227.68" fill="#d2d2d2"/>
<polygon points="455.43,252.70 458.33,247.48 452.53,247.48" fill="#d2d2d2"/>
<polygon points="516.70,305.90 519.60,300.68 513.80,300.68" fill="#d2d2d2"/>
<text x="328.20" y="224.50" font-size="10.10" text-anchor="end" fill="#111111">1</text>
<text x="328.20" y="265.23" font-size="10.10" text-anchor="end" fill="#111111">0.1</text>
<text x="328.20" y="305.97" font-size="10.10" text-anchor="end" fill="#111111">0.01</text>
<text x="328.20" y="346.70" font-size="10.10" text-anchor="end" fill="#111111">0.001</text>
<text x="332.90" y="357.30" font-size="10.10" text-anchor="middle" fill="#111111">0</text>
<text x="394.17" y="357.30" font-size="10.10" text-anchor="middle" fill="#111111">2</text>
<text x="455.43" y="357.30" font-size="10.10" text-anchor="middle" fill="#111111">4</text>
<text x="516.70" y="357.30" font-size="10.10" text-anchor="middle" fill="#111111">6</text>
<text x="424.80" y="370.30" font-size="10.35" text-anchor="middle" fill="#111111" xml:space="preserve">Irradiation (Gy)</text>
<text transform="translate(299.40,281.00) rotate(-90)" font-size="10.10" text-anchor="middle" fill="#111111">Clonogenic fraction</text>
<line x1="337.9" y1="296.4" x2="350.79999999999995" y2="296.4" stroke="#000000" stroke-width="1.3" stroke-dasharray="2.6,2.2"/>
<rect x="342.02" y="294.07" width="4.66" height="4.66" fill="#000000"/>
<text x="358.80" y="301.90" font-size="10.15" text-anchor="start" fill="#111111" xml:space="preserve"><tspan font-style="italic">IDH1/2</tspan><tspan font-size="7.61" dy="-5.1">WT</tspan><tspan dy="5.1"> (c)</tspan></text>
<line x1="337.9" y1="309.6" x2="350.79999999999995" y2="309.6" stroke="#000000" stroke-width="1.3"/>
<rect x="342.02" y="307.27" width="4.66" height="4.66" fill="#000000"/>
<text x="358.80" y="315.10" font-size="10.15" text-anchor="start" fill="#111111" xml:space="preserve"><tspan font-style="italic">IDH1</tspan><tspan font-size="7.61" dy="-5.1">MUT</tspan><tspan dy="5.1"> (c)</tspan></text>
<line x1="337.9" y1="323.1" x2="350.79999999999995" y2="323.1" stroke="#8c8c8c" stroke-width="1.3"/>
<polygon points="344.35,320.35 347.10,325.30 341.59,325.30" fill="#8c8c8c"/>
<text x="358.80" y="328.60" font-size="10.15" text-anchor="start" fill="#111111" xml:space="preserve"><tspan font-style="italic">IDH1</tspan><tspan font-size="7.61" dy="-5.1">MUT</tspan><tspan dy="5.1">+AGI-5198 (3 d)</tspan></text>
<line x1="337.9" y1="336.2" x2="350.79999999999995" y2="336.2" stroke="#d2d2d2" stroke-width="1.3"/>
<polygon points="344.35,338.95 347.10,334.00 341.59,334.00" fill="#d2d2d2"/>
<text x="358.80" y="341.70" font-size="10.15" text-anchor="start" fill="#111111" xml:space="preserve"><tspan font-style="italic">IDH1</tspan><tspan font-size="7.61" dy="-5.1">MUT</tspan><tspan dy="5.1">+AGI-5198 (7 d)</tspan></text>
<text x="510.9" y="308.66" font-size="8" font-weight="bold" text-anchor="middle" fill="#777" stroke="none" letter-spacing="0.8">*</text>
<text x="451.59999999999997" y="257.66" font-size="8" font-weight="bold" text-anchor="middle" fill="#666" stroke="none" letter-spacing="0.8">*</text>
</g>
<g id="panelE">
<text x="6.1" y="410" font-size="15.8" font-weight="bold" fill="#000">E</text>
<g stroke="#000" stroke-width="1.5" fill="none">
<line x1="51.2" y1="418.3" x2="51.2" y2="541.5"/>
<line x1="50.5" y1="540.8" x2="235.2" y2="540.8"/>
</g>
<g stroke="#000" stroke-width="1.3" fill="none">
<line x1="47.6" y1="418.80" x2="51.2" y2="418.80"/>
<line x1="49.1" y1="447.22" x2="51.2" y2="447.22" stroke-width="0.9"/>
<line x1="49.1" y1="440.06" x2="51.2" y2="440.06" stroke-width="0.9"/>
<line x1="49.1" y1="434.98" x2="51.2" y2="434.98" stroke-width="0.9"/>
<line x1="49.1" y1="431.04" x2="51.2" y2="431.04" stroke-width="0.9"/>
<line x1="49.1" y1="427.82" x2="51.2" y2="427.82" stroke-width="0.9"/>
<line x1="49.1" y1="425.10" x2="51.2" y2="425.10" stroke-width="0.9"/>
<line x1="49.1" y1="422.74" x2="51.2" y2="422.74" stroke-width="0.9"/>
<line x1="49.1" y1="420.66" x2="51.2" y2="420.66" stroke-width="0.9"/>
<line x1="47.6" y1="459.47" x2="51.2" y2="459.47"/>
<line x1="49.1" y1="487.89" x2="51.2" y2="487.89" stroke-width="0.9"/>
<line x1="49.1" y1="480.73" x2="51.2" y2="480.73" stroke-width="0.9"/>
<line x1="49.1" y1="475.65" x2="51.2" y2="475.65" stroke-width="0.9"/>
<line x1="49.1" y1="471.71" x2="51.2" y2="471.71" stroke-width="0.9"/>
<line x1="49.1" y1="468.49" x2="51.2" y2="468.49" stroke-width="0.9"/>
<line x1="49.1" y1="465.77" x2="51.2" y2="465.77" stroke-width="0.9"/>
<line x1="49.1" y1="463.41" x2="51.2" y2="463.41" stroke-width="0.9"/>
<line x1="49.1" y1="461.33" x2="51.2" y2="461.33" stroke-width="0.9"/>
<line x1="47.6" y1="500.13" x2="51.2" y2="500.13"/>
<line x1="49.1" y1="528.56" x2="51.2" y2="528.56" stroke-width="0.9"/>
<line x1="49.1" y1="521.40" x2="51.2" y2="521.40" stroke-width="0.9"/>
<line x1="49.1" y1="516.32" x2="51.2" y2="516.32" stroke-width="0.9"/>
<line x1="49.1" y1="512.38" x2="51.2" y2="512.38" stroke-width="0.9"/>
<line x1="49.1" y1="509.16" x2="51.2" y2="509.16" stroke-width="0.9"/>
<line x1="49.1" y1="506.43" x2="51.2" y2="506.43" stroke-width="0.9"/>
<line x1="49.1" y1="504.07" x2="51.2" y2="504.07" stroke-width="0.9"/>
<line x1="49.1" y1="501.99" x2="51.2" y2="501.99" stroke-width="0.9"/>
<line x1="47.6" y1="540.80" x2="51.2" y2="540.80"/>
<line x1="51.20" y1="540.8" x2="51.20" y2="544.0"/>
<line x1="87.90" y1="540.8" x2="87.90" y2="544.0"/>
<line x1="124.60" y1="540.8" x2="124.60" y2="544.0"/>
<line x1="161.30" y1="540.8" x2="161.30" y2="544.0"/>
<line x1="198.00" y1="540.8" x2="198.00" y2="544.0"/>
<line x1="234.70" y1="540.8" x2="234.70" y2="544.0"/>
</g>
<clipPath id="clipE"><rect x="46.2" y="410.8" width="195.5" height="130.49999999999994"/></clipPath>
<g clip-path="url(#clipE)">
<polyline points="51.20,419.00 87.90,421.50 142.95,452.00 234.70,501.50" fill="none" stroke="#d2d2d2" stroke-width="1.0" stroke-linejoin="round"/>
<polyline points="51.20,419.00 87.90,426.00 142.95,461.00 234.70,514.00" fill="none" stroke="#8c8c8c" stroke-width="1.25" stroke-linejoin="round"/>
<polyline points="51.20,419.00 87.90,420.00 142.95,450.50 234.70,500.50" fill="none" stroke="#000000" stroke-width="1.45" stroke-dasharray="3.2,2.2" stroke-linejoin="round"/>
<polyline points="51.20,419.00 87.90,428.75 142.95,462.30 234.70,518.30" fill="none" stroke="#000000" stroke-width="1.6" stroke-linejoin="round"/>
</g>
<polygon points="51.20,416.10 54.10,421.32 48.30,421.32" fill="#8c8c8c"/>
<polygon points="87.90,423.10 90.80,428.32 85.00,428.32" fill="#8c8c8c"/>
<polygon points="142.95,458.10 145.85,463.32 140.05,463.32" fill="#8c8c8c"/>
<polygon points="234.70,511.10 237.60,516.32 231.80,516.32" fill="#8c8c8c"/>
<g stroke="#000000" stroke-width="1.4" fill="none"><line x1="142.95" y1="442.50" x2="142.95" y2="458.00"/><line x1="140.65" y1="442.50" x2="145.25" y2="442.50"/><line x1="140.65" y1="458.00" x2="145.25" y2="458.00"/></g>
<g stroke="#000000" stroke-width="1.4" fill="none"><line x1="234.70" y1="468.75" x2="234.70" y2="500.00"/><line x1="232.40" y1="468.75" x2="237.00" y2="468.75"/><line x1="232.40" y1="500.00" x2="237.00" y2="500.00"/></g>
<rect x="48.75" y="416.55" width="4.90" height="4.90" fill="#000000"/>
<rect x="85.45" y="417.55" width="4.90" height="4.90" fill="#000000"/>
<rect x="140.50" y="448.05" width="4.90" height="4.90" fill="#000000"/>
<rect x="232.25" y="498.05" width="4.90" height="4.90" fill="#000000"/>
<g stroke="#000000" stroke-width="1.4" fill="none"><line x1="87.90" y1="422.00" x2="87.90" y2="437.00"/><line x1="85.60" y1="422.00" x2="90.20" y2="422.00"/><line x1="85.60" y1="437.00" x2="90.20" y2="437.00"/></g>
<g stroke="#000000" stroke-width="1.4" fill="none"><line x1="142.95" y1="456.00" x2="142.95" y2="473.00"/><line x1="140.65" y1="456.00" x2="145.25" y2="456.00"/><line x1="140.65" y1="473.00" x2="145.25" y2="473.00"/></g>
<rect x="48.75" y="416.55" width="4.90" height="4.90" fill="#000000"/>
<rect x="85.45" y="426.30" width="4.90" height="4.90" fill="#000000"/>
<rect x="140.50" y="459.85" width="4.90" height="4.90" fill="#000000"/>
<rect x="232.25" y="515.85" width="4.90" height="4.90" fill="#000000"/>
<g stroke="#d2d2d2" stroke-width="1.2" fill="none"><line x1="142.95" y1="442.50" x2="142.95" y2="459.00"/><line x1="140.65" y1="442.50" x2="145.25" y2="442.50"/><line x1="140.65" y1="459.00" x2="145.25" y2="459.00"/></g>
<g stroke="#d2d2d2" stroke-width="1.2" fill="none"><line x1="234.70" y1="481.00" x2="234.70" y2="504.00"/><line x1="232.40" y1="481.00" x2="237.00" y2="481.00"/><line x1="232.40" y1="504.00" x2="237.00" y2="504.00"/></g>
<polygon points="142.95,454.90 145.85,449.68 140.05,449.68" fill="#d2d2d2"/>
<polygon points="234.70,504.40 237.60,499.18 231.80,499.18" fill="#d2d2d2"/>
<text x="46.50" y="422.40" font-size="10.10" text-anchor="end" fill="#111111">1</text>
<text x="46.50" y="463.07" font-size="10.10" text-anchor="end" fill="#111111">0.1</text>
<text x="46.50" y="503.73" font-size="10.10" text-anchor="end" fill="#111111">0.01</text>
<text x="46.50" y="544.40" font-size="10.10" text-anchor="end" fill="#111111">0.001</text>
<text x="51.20" y="555.00" font-size="10.10" text-anchor="middle" fill="#111111">0</text>
<text x="87.90" y="555.00" font-size="10.10" text-anchor="middle" fill="#111111">10</text>
<text x="124.60" y="555.00" font-size="10.10" text-anchor="middle" fill="#111111">20</text>
<text x="161.30" y="555.00" font-size="10.10" text-anchor="middle" fill="#111111">30</text>
<text x="198.00" y="555.00" font-size="10.10" text-anchor="middle" fill="#111111">40</text>
<text x="234.70" y="555.00" font-size="10.10" text-anchor="middle" fill="#111111">50</text>
<text x="144.35" y="568.00" font-size="10.35" text-anchor="middle" fill="#111111" xml:space="preserve">Daunorubicin  (nmol/L)</text>
<text transform="translate(17.20,478.80) rotate(-90)" font-size="10.10" text-anchor="middle" fill="#111111">Clonogenic fraction</text>
<line x1="55.8" y1="491.3" x2="68.7" y2="491.3" stroke="#000000" stroke-width="1.3" stroke-dasharray="2.6,2.2"/>
<rect x="59.92" y="488.97" width="4.66" height="4.66" fill="#000000"/>
<text x="76.60" y="496.80" font-size="10.15" text-anchor="start" fill="#111111" xml:space="preserve"><tspan font-style="italic">IDH1/2</tspan><tspan font-size="7.61" dy="-5.1">WT</tspan><tspan dy="5.1"> (c)</tspan></text>
<line x1="55.8" y1="504.7" x2="68.7" y2="504.7" stroke="#000000" stroke-width="1.3"/>
<rect x="59.92" y="502.37" width="4.66" height="4.66" fill="#000000"/>
<text x="76.60" y="510.20" font-size="10.15" text-anchor="start" fill="#111111" xml:space="preserve"><tspan font-style="italic">IDH2</tspan><tspan font-size="7.61" dy="-5.1">MUT</tspan><tspan dy="5.1"> (c)</tspan></text>
<line x1="55.8" y1="518.3" x2="68.7" y2="518.3" stroke="#8c8c8c" stroke-width="1.3"/>
<polygon points="62.25,515.54 65.00,520.50 59.49,520.50" fill="#8c8c8c"/>
<text x="76.60" y="523.80" font-size="10.15" text-anchor="start" fill="#111111" xml:space="preserve"><tspan font-style="italic">IDH2</tspan><tspan font-size="7.61" dy="-5.1">MUT</tspan><tspan dy="5.1">+AGI-6780 (3 d)</tspan></text>
<line x1="55.8" y1="531.8" x2="68.7" y2="531.8" stroke="#d2d2d2" stroke-width="1.3"/>
<polygon points="62.25,534.55 65.00,529.60 59.49,529.60" fill="#d2d2d2"/>
<text x="76.60" y="537.30" font-size="10.15" text-anchor="start" fill="#111111" xml:space="preserve"><tspan font-style="italic">IDH2</tspan><tspan font-size="7.61" dy="-5.1">MUT</tspan><tspan dy="5.1">+AGI-6780 (7 d)</tspan></text>
<text x="241.4" y="506.16" font-size="8" font-weight="bold" text-anchor="middle" fill="#777" stroke="none" letter-spacing="0.8">*</text>
</g>
<g id="panelF">
<text x="279.85" y="410" font-size="15.8" font-weight="bold" fill="#000">F</text>
<g stroke="#000" stroke-width="1.5" fill="none">
<line x1="332.9" y1="418.3" x2="332.9" y2="541.5"/>
<line x1="332.2" y1="540.8" x2="517.2" y2="540.8"/>
</g>
<g stroke="#000" stroke-width="1.3" fill="none">
<line x1="329.29999999999995" y1="418.80" x2="332.9" y2="418.80"/>
<line x1="330.79999999999995" y1="447.22" x2="332.9" y2="447.22" stroke-width="0.9"/>
<line x1="330.79999999999995" y1="440.06" x2="332.9" y2="440.06" stroke-width="0.9"/>
<line x1="330.79999999999995" y1="434.98" x2="332.9" y2="434.98" stroke-width="0.9"/>
<line x1="330.79999999999995" y1="431.04" x2="332.9" y2="431.04" stroke-width="0.9"/>
<line x1="330.79999999999995" y1="427.82" x2="332.9" y2="427.82" stroke-width="0.9"/>
<line x1="330.79999999999995" y1="425.10" x2="332.9" y2="425.10" stroke-width="0.9"/>
<line x1="330.79999999999995" y1="422.74" x2="332.9" y2="422.74" stroke-width="0.9"/>
<line x1="330.79999999999995" y1="420.66" x2="332.9" y2="420.66" stroke-width="0.9"/>
<line x1="329.29999999999995" y1="459.47" x2="332.9" y2="459.47"/>
<line x1="330.79999999999995" y1="487.89" x2="332.9" y2="487.89" stroke-width="0.9"/>
<line x1="330.79999999999995" y1="480.73" x2="332.9" y2="480.73" stroke-width="0.9"/>
<line x1="330.79999999999995" y1="475.65" x2="332.9" y2="475.65" stroke-width="0.9"/>
<line x1="330.79999999999995" y1="471.71" x2="332.9" y2="471.71" stroke-width="0.9"/>
<line x1="330.79999999999995" y1="468.49" x2="332.9" y2="468.49" stroke-width="0.9"/>
<line x1="330.79999999999995" y1="465.77" x2="332.9" y2="465.77" stroke-width="0.9"/>
<line x1="330.79999999999995" y1="463.41" x2="332.9" y2="463.41" stroke-width="0.9"/>
<line x1="330.79999999999995" y1="461.33" x2="332.9" y2="461.33" stroke-width="0.9"/>
<line x1="329.29999999999995" y1="500.13" x2="332.9" y2="500.13"/>
<line x1="330.79999999999995" y1="528.56" x2="332.9" y2="528.56" stroke-width="0.9"/>
<line x1="330.79999999999995" y1="521.40" x2="332.9" y2="521.40" stroke-width="0.9"/>
<line x1="330.79999999999995" y1="516.32" x2="332.9" y2="516.32" stroke-width="0.9"/>
<line x1="330.79999999999995" y1="512.38" x2="332.9" y2="512.38" stroke-width="0.9"/>
<line x1="330.79999999999995" y1="509.16" x2="332.9" y2="509.16" stroke-width="0.9"/>
<line x1="330.79999999999995" y1="506.43" x2="332.9" y2="506.43" stroke-width="0.9"/>
<line x1="330.79999999999995" y1="504.07" x2="332.9" y2="504.07" stroke-width="0.9"/>
<line x1="330.79999999999995" y1="501.99" x2="332.9" y2="501.99" stroke-width="0.9"/>
<line x1="329.29999999999995" y1="540.80" x2="332.9" y2="540.80"/>
<line x1="332.90" y1="540.8" x2="332.90" y2="544.0"/>
<line x1="394.17" y1="540.8" x2="394.17" y2="544.0"/>
<line x1="455.43" y1="540.8" x2="455.43" y2="544.0"/>
<line x1="516.70" y1="540.8" x2="516.70" y2="544.0"/>
</g>
<clipPath id="clipF"><rect x="327.9" y="410.8" width="195.80000000000007" height="130.49999999999994"/></clipPath>
<g clip-path="url(#clipF)">
<polyline points="332.90,419.00 394.17,425.00 455.43,447.00 516.70,489.00" fill="none" stroke="#d2d2d2" stroke-width="1.0" stroke-linejoin="round"/>
<polyline points="332.90,419.00 394.17,431.00 455.43,461.00 516.70,520.00" fill="none" stroke="#8c8c8c" stroke-width="1.25" stroke-linejoin="round"/>
<polyline points="332.90,419.00 394.17,424.60 455.43,443.75 516.70,486.00" fill="none" stroke="#000000" stroke-width="1.45" stroke-dasharray="3.2,2.2" stroke-linejoin="round"/>
<polyline points="332.90,419.00 394.17,430.50 455.43,460.00 516.70,515.20" fill="none" stroke="#000000" stroke-width="1.5" stroke-linejoin="round"/>
<polyline points="455.43,447.00 516.70,489.00" fill="none" stroke="#d2d2d2" stroke-width="1.6" stroke-linejoin="round"/>
</g>
<polygon points="332.90,416.10 335.80,421.32 330.00,421.32" fill="#8c8c8c"/>
<polygon points="394.17,428.10 397.07,433.32 391.27,433.32" fill="#8c8c8c"/>
<polygon points="455.43,458.10 458.33,463.32 452.53,463.32" fill="#8c8c8c"/>
<polygon points="516.70,517.10 519.60,522.32 513.80,522.32" fill="#8c8c8c"/>
<g stroke="#000000" stroke-width="1.4" fill="none"><line x1="394.17" y1="420.00" x2="394.17" y2="428.00"/><line x1="391.87" y1="420.00" x2="396.47" y2="420.00"/><line x1="391.87" y1="428.00" x2="396.47" y2="428.00"/></g>
<g stroke="#000000" stroke-width="1.4" fill="none"><line x1="455.43" y1="434.10" x2="455.43" y2="452.00"/><line x1="453.13" y1="434.10" x2="457.73" y2="434.10"/><line x1="453.13" y1="452.00" x2="457.73" y2="452.00"/></g>
<g stroke="#000000" stroke-width="1.4" fill="none"><line x1="516.70" y1="480.80" x2="516.70" y2="488.00"/><line x1="514.40" y1="480.80" x2="519.00" y2="480.80"/><line x1="514.40" y1="488.00" x2="519.00" y2="488.00"/></g>
<rect x="330.45" y="416.55" width="4.90" height="4.90" fill="#000000"/>
<rect x="391.72" y="422.15" width="4.90" height="4.90" fill="#000000"/>
<rect x="452.98" y="441.30" width="4.90" height="4.90" fill="#000000"/>
<rect x="514.25" y="483.55" width="4.90" height="4.90" fill="#000000"/>
<g stroke="#000000" stroke-width="1.4" fill="none"><line x1="394.17" y1="426.00" x2="394.17" y2="437.50"/><line x1="391.87" y1="426.00" x2="396.47" y2="426.00"/><line x1="391.87" y1="437.50" x2="396.47" y2="437.50"/></g>
<g stroke="#000000" stroke-width="1.4" fill="none"><line x1="455.43" y1="456.00" x2="455.43" y2="465.00"/><line x1="453.13" y1="456.00" x2="457.73" y2="456.00"/><line x1="453.13" y1="465.00" x2="457.73" y2="465.00"/></g>
<g stroke="#000000" stroke-width="1.4" fill="none"><line x1="516.70" y1="486.00" x2="516.70" y2="515.00"/><line x1="514.40" y1="486.00" x2="519.00" y2="486.00"/><line x1="514.40" y1="515.00" x2="519.00" y2="515.00"/></g>
<rect x="330.45" y="416.55" width="4.90" height="4.90" fill="#000000"/>
<rect x="391.72" y="428.05" width="4.90" height="4.90" fill="#000000"/>
<rect x="452.98" y="457.55" width="4.90" height="4.90" fill="#000000"/>
<rect x="514.25" y="512.75" width="4.90" height="4.90" fill="#000000"/>


<polygon points="394.17,427.90 397.07,422.68 391.27,422.68" fill="#d2d2d2"/>
<polygon points="455.43,449.90 458.33,444.68 452.53,444.68" fill="#d2d2d2"/>
<polygon points="516.70,491.90 519.60,486.68 513.80,486.68" fill="#d2d2d2"/>
<text x="328.20" y="422.40" font-size="10.10" text-anchor="end" fill="#111111">1</text>
<text x="328.20" y="463.07" font-size="10.10" text-anchor="end" fill="#111111">0.1</text>
<text x="328.20" y="503.73" font-size="10.10" text-anchor="end" fill="#111111">0.01</text>
<text x="328.20" y="544.40" font-size="10.10" text-anchor="end" fill="#111111">0.001</text>
<text x="332.90" y="555.00" font-size="10.10" text-anchor="middle" fill="#111111">0</text>
<text x="394.17" y="555.00" font-size="10.10" text-anchor="middle" fill="#111111">2</text>
<text x="455.43" y="555.00" font-size="10.10" text-anchor="middle" fill="#111111">4</text>
<text x="516.70" y="555.00" font-size="10.10" text-anchor="middle" fill="#111111">6</text>
<text x="424.80" y="568.00" font-size="10.35" text-anchor="middle" fill="#111111" xml:space="preserve">Irradiation (Gy)</text>
<text transform="translate(299.40,478.80) rotate(-90)" font-size="10.10" text-anchor="middle" fill="#111111">Clonogenic fraction</text>
<line x1="337.9" y1="488.1" x2="350.79999999999995" y2="488.1" stroke="#000000" stroke-width="1.3" stroke-dasharray="2.6,2.2"/>
<rect x="342.02" y="485.77" width="4.66" height="4.66" fill="#000000"/>
<text x="358.90" y="493.60" font-size="10.15" text-anchor="start" fill="#111111" xml:space="preserve"><tspan font-style="italic">IDH1/2</tspan><tspan font-size="7.61" dy="-5.1">WT</tspan><tspan dy="5.1"> (c)</tspan></text>
<line x1="337.9" y1="503.1" x2="350.79999999999995" y2="503.1" stroke="#000000" stroke-width="1.3"/>
<rect x="342.02" y="500.77" width="4.66" height="4.66" fill="#000000"/>
<text x="358.90" y="508.60" font-size="10.15" text-anchor="start" fill="#111111" xml:space="preserve"><tspan font-style="italic">IDH2</tspan><tspan font-size="7.61" dy="-5.1">MUT</tspan><tspan dy="5.1"> (c)</tspan></text>
<line x1="337.9" y1="518.3" x2="350.79999999999995" y2="518.3" stroke="#8c8c8c" stroke-width="1.3"/>
<polygon points="344.35,515.54 347.10,520.50 341.59,520.50" fill="#8c8c8c"/>
<text x="358.90" y="523.80" font-size="10.15" text-anchor="start" fill="#111111" xml:space="preserve"><tspan font-style="italic">IDH2</tspan><tspan font-size="7.61" dy="-5.1">MUT</tspan><tspan dy="5.1">+AGI-6780 (3 d)</tspan></text>
<line x1="337.9" y1="532.7" x2="350.79999999999995" y2="532.7" stroke="#d2d2d2" stroke-width="1.3"/>
<polygon points="344.35,535.46 347.10,530.50 341.59,530.50" fill="#d2d2d2"/>
<text x="358.90" y="538.20" font-size="10.15" text-anchor="start" fill="#111111" xml:space="preserve"><tspan font-style="italic">IDH2</tspan><tspan font-size="7.61" dy="-5.1">MUT</tspan><tspan dy="5.1">+AGI-6780 (7 d)</tspan></text>
<text x="447.79999999999995" y="452.96" font-size="8" font-weight="bold" text-anchor="middle" fill="#666" stroke="none" letter-spacing="0.8">*</text>
<text x="506.79999999999995" y="494.26" font-size="8" font-weight="bold" text-anchor="middle" fill="#666" stroke="none" letter-spacing="0.8">**</text>
</g>
<g id="panelG">
<text x="4.3" y="607.9" font-size="15.8" font-weight="bold" fill="#000">G</text>
<g stroke="#000" stroke-width="1.5" fill="none">
<line x1="50.5" y1="614.3" x2="50.5" y2="741.2"/>
<line x1="49.8" y1="740.5" x2="239.75" y2="740.5"/>
</g>
<g stroke="#000" stroke-width="1.3" fill="none">
<line x1="46.9" y1="614.80" x2="50.5" y2="614.80"/>
<line x1="48.4" y1="644.09" x2="50.5" y2="644.09" stroke-width="0.9"/>
<line x1="48.4" y1="636.71" x2="50.5" y2="636.71" stroke-width="0.9"/>
<line x1="48.4" y1="631.47" x2="50.5" y2="631.47" stroke-width="0.9"/>
<line x1="48.4" y1="627.41" x2="50.5" y2="627.41" stroke-width="0.9"/>
<line x1="48.4" y1="624.10" x2="50.5" y2="624.10" stroke-width="0.9"/>
<line x1="48.4" y1="621.29" x2="50.5" y2="621.29" stroke-width="0.9"/>
<line x1="48.4" y1="618.86" x2="50.5" y2="618.86" stroke-width="0.9"/>
<line x1="48.4" y1="616.72" x2="50.5" y2="616.72" stroke-width="0.9"/>
<line x1="46.9" y1="656.70" x2="50.5" y2="656.70"/>
<line x1="48.4" y1="685.99" x2="50.5" y2="685.99" stroke-width="0.9"/>
<line x1="48.4" y1="678.61" x2="50.5" y2="678.61" stroke-width="0.9"/>
<line x1="48.4" y1="673.37" x2="50.5" y2="673.37" stroke-width="0.9"/>
<line x1="48.4" y1="669.31" x2="50.5" y2="669.31" stroke-width="0.9"/>
<line x1="48.4" y1="666.00" x2="50.5" y2="666.00" stroke-width="0.9"/>
<line x1="48.4" y1="663.19" x2="50.5" y2="663.19" stroke-width="0.9"/>
<line x1="48.4" y1="660.76" x2="50.5" y2="660.76" stroke-width="0.9"/>
<line x1="48.4" y1="658.62" x2="50.5" y2="658.62" stroke-width="0.9"/>
<line x1="46.9" y1="698.60" x2="50.5" y2="698.60"/>
<line x1="48.4" y1="727.89" x2="50.5" y2="727.89" stroke-width="0.9"/>
<line x1="48.4" y1="720.51" x2="50.5" y2="720.51" stroke-width="0.9"/>
<line x1="48.4" y1="715.27" x2="50.5" y2="715.27" stroke-width="0.9"/>
<line x1="48.4" y1="711.21" x2="50.5" y2="711.21" stroke-width="0.9"/>
<line x1="48.4" y1="707.90" x2="50.5" y2="707.90" stroke-width="0.9"/>
<line x1="48.4" y1="705.09" x2="50.5" y2="705.09" stroke-width="0.9"/>
<line x1="48.4" y1="702.66" x2="50.5" y2="702.66" stroke-width="0.9"/>
<line x1="48.4" y1="700.52" x2="50.5" y2="700.52" stroke-width="0.9"/>
<line x1="46.9" y1="740.50" x2="50.5" y2="740.50"/>
<line x1="50.50" y1="740.5" x2="50.50" y2="743.7"/>
<line x1="88.25" y1="740.5" x2="88.25" y2="743.7"/>
<line x1="144.88" y1="740.5" x2="144.88" y2="743.7"/>
<line x1="239.25" y1="740.5" x2="239.25" y2="743.7"/>
</g>
<clipPath id="clipG"><rect x="45.5" y="606.8" width="200.75" height="134.20000000000005"/></clipPath>
<g clip-path="url(#clipG)">
<polyline points="50.50,615.00 88.25,618.00 144.88,652.00 239.25,684.00" fill="none" stroke="#a0a0a0" stroke-width="1.0" stroke-linejoin="round"/>
<polyline points="50.50,615.00 88.25,616.50 144.88,642.50 239.25,692.50" fill="none" stroke="#4a4a4a" stroke-width="1.3" stroke-linejoin="round"/>
<polyline points="50.50,615.00 88.25,617.00 144.88,647.50 239.25,698.75" fill="none" stroke="#000000" stroke-width="1.7" stroke-linejoin="round"/>
</g>
<g stroke="#a0a0a0" stroke-width="1.2" fill="none"><line x1="144.88" y1="640.00" x2="144.88" y2="662.00"/><line x1="142.57" y1="640.00" x2="147.18" y2="640.00"/><line x1="142.57" y1="662.00" x2="147.18" y2="662.00"/></g>
<g stroke="#a0a0a0" stroke-width="1.2" fill="none"><line x1="239.25" y1="676.00" x2="239.25" y2="690.00"/><line x1="236.95" y1="676.00" x2="241.55" y2="676.00"/><line x1="236.95" y1="690.00" x2="241.55" y2="690.00"/></g>
<polygon points="50.50,617.90 53.40,612.68 47.60,612.68" fill="#a0a0a0"/>
<polygon points="88.25,620.90 91.15,615.68 85.35,615.68" fill="#a0a0a0"/>
<polygon points="144.88,654.90 147.78,649.68 141.97,649.68" fill="#a0a0a0"/>
<polygon points="239.25,686.90 242.15,681.68 236.35,681.68" fill="#a0a0a0"/>
<g stroke="#4a4a4a" stroke-width="1.2" fill="none"><line x1="88.25" y1="617.00" x2="88.25" y2="627.00"/><line x1="85.95" y1="617.00" x2="90.55" y2="617.00"/><line x1="85.95" y1="627.00" x2="90.55" y2="627.00"/></g>
<g stroke="#4a4a4a" stroke-width="1.2" fill="none"><line x1="144.88" y1="636.00" x2="144.88" y2="660.00"/><line x1="142.57" y1="636.00" x2="147.18" y2="636.00"/><line x1="142.57" y1="660.00" x2="147.18" y2="660.00"/></g>
<g stroke="#4a4a4a" stroke-width="1.2" fill="none"><line x1="239.25" y1="672.00" x2="239.25" y2="692.00"/><line x1="236.95" y1="672.00" x2="241.55" y2="672.00"/><line x1="236.95" y1="692.00" x2="241.55" y2="692.00"/></g>
<polygon points="50.50,612.10 53.40,617.32 47.60,617.32" fill="#4a4a4a"/>
<polygon points="88.25,613.60 91.15,618.82 85.35,618.82" fill="#4a4a4a"/>
<polygon points="144.88,639.60 147.78,644.82 141.97,644.82" fill="#4a4a4a"/>
<polygon points="239.25,689.60 242.15,694.82 236.35,694.82" fill="#4a4a4a"/>
<g stroke="#000000" stroke-width="1.4" fill="none"><line x1="50.50" y1="615.00" x2="50.50" y2="624.00"/><line x1="48.20" y1="615.00" x2="52.80" y2="615.00"/><line x1="48.20" y1="624.00" x2="52.80" y2="624.00"/></g>
<g stroke="#000000" stroke-width="1.4" fill="none"><line x1="88.25" y1="617.00" x2="88.25" y2="629.00"/><line x1="85.95" y1="617.00" x2="90.55" y2="617.00"/><line x1="85.95" y1="629.00" x2="90.55" y2="629.00"/></g>
<g stroke="#000000" stroke-width="1.4" fill="none"><line x1="144.88" y1="637.50" x2="144.88" y2="665.75"/><line x1="142.57" y1="637.50" x2="147.18" y2="637.50"/><line x1="142.57" y1="665.75" x2="147.18" y2="665.75"/></g>
<g stroke="#000000" stroke-width="1.4" fill="none"><line x1="239.25" y1="665.75" x2="239.25" y2="698.00"/><line x1="236.95" y1="665.75" x2="241.55" y2="665.75"/><line x1="236.95" y1="698.00" x2="241.55" y2="698.00"/></g>
<rect x="48.05" y="612.55" width="4.90" height="4.90" fill="#000000"/>
<rect x="85.80" y="614.55" width="4.90" height="4.90" fill="#000000"/>
<rect x="142.43" y="645.05" width="4.90" height="4.90" fill="#000000"/>
<rect x="236.80" y="696.30" width="4.90" height="4.90" fill="#000000"/>
<text x="46.70" y="618.40" font-size="10.30" text-anchor="end" fill="#111111">1</text>
<text x="46.70" y="660.30" font-size="10.30" text-anchor="end" fill="#111111">0.1</text>
<text x="46.70" y="702.20" font-size="10.30" text-anchor="end" fill="#111111">0.01</text>
<text x="46.70" y="744.10" font-size="10.30" text-anchor="end" fill="#111111">0.001</text>
<text x="50.50" y="755.00" font-size="10.30" text-anchor="middle" fill="#111111">0</text>
<text x="88.25" y="755.00" font-size="10.30" text-anchor="middle" fill="#111111">10</text>
<text x="144.88" y="755.00" font-size="10.30" text-anchor="middle" fill="#111111">25</text>
<text x="239.25" y="755.00" font-size="10.30" text-anchor="middle" fill="#111111">50</text>
<text x="146.28" y="766.50" font-size="10.56" text-anchor="middle" fill="#111111" xml:space="preserve">Daunorubicin  (nmol/L)</text>
<text transform="translate(20.20,677.95) rotate(-90)" font-size="10.30" text-anchor="middle" fill="#111111">Clonogenic fraction</text>
<line x1="56" y1="702.5" x2="68.9" y2="702.5" stroke="#000000" stroke-width="1.3"/>
<rect x="60.12" y="700.17" width="4.66" height="4.66" fill="#000000"/>
<text x="77.50" y="708.00" font-size="10.353" text-anchor="start" fill="#111111" xml:space="preserve"><tspan font-style="italic">IDH1/2</tspan><tspan font-size="7.76" dy="-5.1">WT</tspan><tspan dy="5.1"> (c)</tspan></text>
<line x1="56" y1="717" x2="68.9" y2="717" stroke="#4a4a4a" stroke-width="1.3"/>
<polygon points="62.45,714.25 65.20,719.20 59.70,719.20" fill="#4a4a4a"/>
<text x="77.50" y="722.50" font-size="10.353" text-anchor="start" fill="#111111" xml:space="preserve"><tspan font-style="italic">IDH1/2</tspan><tspan font-size="7.76" dy="-5.1">WT</tspan><tspan dy="5.1">+AGI-5198 (7 d)</tspan></text>
<line x1="56" y1="731.3" x2="68.9" y2="731.3" stroke="#a0a0a0" stroke-width="1.3"/>
<polygon points="62.45,734.05 65.20,729.10 59.70,729.10" fill="#a0a0a0"/>
<text x="77.50" y="736.80" font-size="10.353" text-anchor="start" fill="#111111" xml:space="preserve"><tspan font-style="italic">IDH1/2</tspan><tspan font-size="7.76" dy="-5.1">WT</tspan><tspan dy="5.1">+AGI-6780 (7 d)</tspan></text>
</g>
<g id="panelH">
<text x="277.85" y="608" font-size="15.8" font-weight="bold" fill="#000">H</text>
<g stroke="#000" stroke-width="1.5" fill="none">
<line x1="332.9" y1="620.0" x2="332.9" y2="741.9000000000001"/>
<line x1="332.2" y1="741.2" x2="514.75" y2="741.2"/>
</g>
<g stroke="#000" stroke-width="1.3" fill="none">
<line x1="329.29999999999995" y1="620.50" x2="332.9" y2="620.50"/>
<line x1="330.79999999999995" y1="648.62" x2="332.9" y2="648.62" stroke-width="0.9"/>
<line x1="330.79999999999995" y1="641.54" x2="332.9" y2="641.54" stroke-width="0.9"/>
<line x1="330.79999999999995" y1="636.51" x2="332.9" y2="636.51" stroke-width="0.9"/>
<line x1="330.79999999999995" y1="632.61" x2="332.9" y2="632.61" stroke-width="0.9"/>
<line x1="330.79999999999995" y1="629.43" x2="332.9" y2="629.43" stroke-width="0.9"/>
<line x1="330.79999999999995" y1="626.73" x2="332.9" y2="626.73" stroke-width="0.9"/>
<line x1="330.79999999999995" y1="624.40" x2="332.9" y2="624.40" stroke-width="0.9"/>
<line x1="330.79999999999995" y1="622.34" x2="332.9" y2="622.34" stroke-width="0.9"/>
<line x1="329.29999999999995" y1="660.73" x2="332.9" y2="660.73"/>
<line x1="330.79999999999995" y1="688.86" x2="332.9" y2="688.86" stroke-width="0.9"/>
<line x1="330.79999999999995" y1="681.77" x2="332.9" y2="681.77" stroke-width="0.9"/>
<line x1="330.79999999999995" y1="676.74" x2="332.9" y2="676.74" stroke-width="0.9"/>
<line x1="330.79999999999995" y1="672.84" x2="332.9" y2="672.84" stroke-width="0.9"/>
<line x1="330.79999999999995" y1="669.66" x2="332.9" y2="669.66" stroke-width="0.9"/>
<line x1="330.79999999999995" y1="666.97" x2="332.9" y2="666.97" stroke-width="0.9"/>
<line x1="330.79999999999995" y1="664.63" x2="332.9" y2="664.63" stroke-width="0.9"/>
<line x1="330.79999999999995" y1="662.57" x2="332.9" y2="662.57" stroke-width="0.9"/>
<line x1="329.29999999999995" y1="700.97" x2="332.9" y2="700.97"/>
<line x1="330.79999999999995" y1="729.09" x2="332.9" y2="729.09" stroke-width="0.9"/>
<line x1="330.79999999999995" y1="722.00" x2="332.9" y2="722.00" stroke-width="0.9"/>
<line x1="330.79999999999995" y1="716.98" x2="332.9" y2="716.98" stroke-width="0.9"/>
<line x1="330.79999999999995" y1="713.08" x2="332.9" y2="713.08" stroke-width="0.9"/>
<line x1="330.79999999999995" y1="709.89" x2="332.9" y2="709.89" stroke-width="0.9"/>
<line x1="330.79999999999995" y1="707.20" x2="332.9" y2="707.20" stroke-width="0.9"/>
<line x1="330.79999999999995" y1="704.87" x2="332.9" y2="704.87" stroke-width="0.9"/>
<line x1="330.79999999999995" y1="702.81" x2="332.9" y2="702.81" stroke-width="0.9"/>
<line x1="329.29999999999995" y1="741.20" x2="332.9" y2="741.20"/>
<line x1="332.90" y1="741.2" x2="332.90" y2="744.4000000000001"/>
<line x1="393.35" y1="741.2" x2="393.35" y2="744.4000000000001"/>
<line x1="453.80" y1="741.2" x2="453.80" y2="744.4000000000001"/>
<line x1="514.25" y1="741.2" x2="514.25" y2="744.4000000000001"/>
</g>
<clipPath id="clipH"><rect x="327.9" y="612.5" width="193.35000000000002" height="129.20000000000005"/></clipPath>
<g clip-path="url(#clipH)">
<polyline points="332.90,620.50 393.35,626.50 453.80,647.00 514.25,684.50" fill="none" stroke="#a0a0a0" stroke-width="1.0" stroke-linejoin="round"/>
<polyline points="332.90,620.50 393.35,624.00 453.80,642.30 514.25,681.40" fill="none" stroke="#4a4a4a" stroke-width="1.3" stroke-linejoin="round"/>
<polyline points="332.90,620.50 393.35,625.60 453.80,644.50 514.25,688.00" fill="none" stroke="#000000" stroke-width="1.6" stroke-linejoin="round"/>
</g>
<g stroke="#a0a0a0" stroke-width="1.2" fill="none"><line x1="514.25" y1="668.70" x2="514.25" y2="712.50"/><line x1="511.95" y1="668.70" x2="516.55" y2="668.70"/><line x1="511.95" y1="712.50" x2="516.55" y2="712.50"/></g>
<g stroke="#a0a0a0" stroke-width="1.2" fill="none"><line x1="453.80" y1="633.00" x2="453.80" y2="660.00"/><line x1="451.50" y1="633.00" x2="456.10" y2="633.00"/><line x1="451.50" y1="660.00" x2="456.10" y2="660.00"/></g>
<polygon points="332.90,623.40 335.80,618.18 330.00,618.18" fill="#a0a0a0"/>
<polygon points="393.35,629.40 396.25,624.18 390.45,624.18" fill="#a0a0a0"/>
<polygon points="453.80,649.90 456.70,644.68 450.90,644.68" fill="#a0a0a0"/>
<polygon points="514.25,687.40 517.15,682.18 511.35,682.18" fill="#a0a0a0"/>
<g stroke="#4a4a4a" stroke-width="1.2" fill="none"><line x1="453.80" y1="631.00" x2="453.80" y2="655.00"/><line x1="451.50" y1="631.00" x2="456.10" y2="631.00"/><line x1="451.50" y1="655.00" x2="456.10" y2="655.00"/></g>
<polygon points="332.90,617.60 335.80,622.82 330.00,622.82" fill="#4a4a4a"/>
<polygon points="393.35,621.10 396.25,626.32 390.45,626.32" fill="#4a4a4a"/>
<polygon points="453.80,639.40 456.70,644.62 450.90,644.62" fill="#4a4a4a"/>
<polygon points="514.25,678.50 517.15,683.72 511.35,683.72" fill="#4a4a4a"/>
<g stroke="#000000" stroke-width="1.4" fill="none"><line x1="393.35" y1="621.30" x2="393.35" y2="632.00"/><line x1="391.05" y1="621.30" x2="395.65" y2="621.30"/><line x1="391.05" y1="632.00" x2="395.65" y2="632.00"/></g>
<g stroke="#000000" stroke-width="1.4" fill="none"><line x1="453.80" y1="632.90" x2="453.80" y2="668.70"/><line x1="451.50" y1="632.90" x2="456.10" y2="632.90"/><line x1="451.50" y1="668.70" x2="456.10" y2="668.70"/></g>
<g stroke="#000000" stroke-width="1.4" fill="none"><line x1="514.25" y1="672.00" x2="514.25" y2="700.20"/><line x1="511.95" y1="672.00" x2="516.55" y2="672.00"/><line x1="511.95" y1="700.20" x2="516.55" y2="700.20"/></g>
<rect x="330.45" y="618.05" width="4.90" height="4.90" fill="#000000"/>
<rect x="390.90" y="623.15" width="4.90" height="4.90" fill="#000000"/>
<rect x="451.35" y="642.05" width="4.90" height="4.90" fill="#000000"/>
<rect x="511.80" y="685.55" width="4.90" height="4.90" fill="#000000"/>
<text x="328.20" y="624.10" font-size="10.05" text-anchor="end" fill="#111111">1</text>
<text x="328.20" y="664.33" font-size="10.05" text-anchor="end" fill="#111111">0.1</text>
<text x="328.20" y="704.57" font-size="10.05" text-anchor="end" fill="#111111">0.01</text>
<text x="328.20" y="744.80" font-size="10.05" text-anchor="end" fill="#111111">0.001</text>
<text x="332.90" y="755.70" font-size="10.05" text-anchor="middle" fill="#111111">0</text>
<text x="393.35" y="755.70" font-size="10.05" text-anchor="middle" fill="#111111">2</text>
<text x="453.80" y="755.70" font-size="10.05" text-anchor="middle" fill="#111111">4</text>
<text x="514.25" y="755.70" font-size="10.05" text-anchor="middle" fill="#111111">6</text>
<text x="423.57" y="767.20" font-size="10.30" text-anchor="middle" fill="#111111" xml:space="preserve">Irradiation (Gy)</text>
<text transform="translate(295.80,679.65) rotate(-90)" font-size="10.05" text-anchor="middle" fill="#111111">Clonogenic fraction</text>
<line x1="337.9" y1="703.7" x2="350.79999999999995" y2="703.7" stroke="#000000" stroke-width="1.3"/>
<rect x="342.02" y="701.37" width="4.66" height="4.66" fill="#000000"/>
<text x="358.40" y="709.20" font-size="10.09925" text-anchor="start" fill="#111111" xml:space="preserve"><tspan font-style="italic">IDH1/2</tspan><tspan font-size="7.57" dy="-5.1">WT</tspan><tspan dy="5.1"> (c)</tspan></text>
<line x1="337.9" y1="718" x2="350.79999999999995" y2="718" stroke="#4a4a4a" stroke-width="1.3"/>
<polygon points="344.35,715.25 347.10,720.20 341.59,720.20" fill="#4a4a4a"/>
<text x="358.40" y="723.50" font-size="10.09925" text-anchor="start" fill="#111111" xml:space="preserve"><tspan font-style="italic">IDH1/2</tspan><tspan font-size="7.57" dy="-5.1">WT</tspan><tspan dy="5.1">+AGI-5198 (7 d)</tspan></text>
<line x1="337.9" y1="731.8" x2="350.79999999999995" y2="731.8" stroke="#a0a0a0" stroke-width="1.3"/>
<polygon points="344.35,734.55 347.10,729.60 341.59,729.60" fill="#a0a0a0"/>
<text x="358.40" y="737.30" font-size="10.09925" text-anchor="start" fill="#111111" xml:space="preserve"><tspan font-style="italic">IDH1/2</tspan><tspan font-size="7.57" dy="-5.1">WT</tspan><tspan dy="5.1">+AGI-6780 (7 d)</tspan></text>
</g>
</svg>
</body></html>
